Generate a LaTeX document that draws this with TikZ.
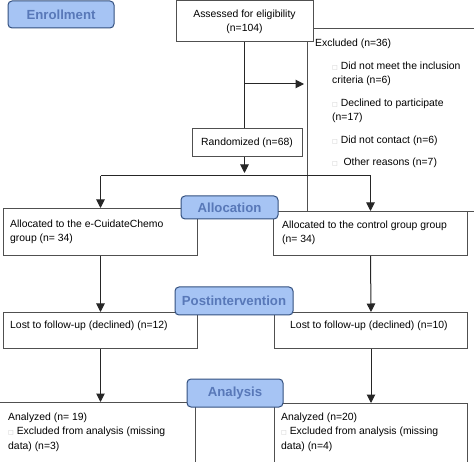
\documentclass[tikz,border=0pt]{standalone}
\usepackage{fontspec}
\setmainfont{Liberation Sans}
\newfontfamily\dejavu{DejaVu Sans}
\usetikzlibrary{arrows.meta,positioning,calc}
\definecolor{stagefill}{HTML}{A6C4F4}
\definecolor{stagedraw}{HTML}{33507F}
\definecolor{stagetext}{HTML}{5878B8}
\definecolor{boxline}{HTML}{505050}
\newcommand{\sqmark}{{\dejavu\fontsize{6}{6}\selectfont\color{gray!45}\char"25A1}}

\begin{document}
\begin{tikzpicture}[x=1pt,y=-1pt,
  font=\fontsize{10.4}{14.5}\selectfont,
  box/.style={draw=boxline,line width=1pt,fill=white,rectangle,inner sep=0pt},
  txt/.style={anchor=north west,inner sep=0pt,align=left},
  stage/.style={draw=stagedraw,line width=1pt,fill=stagefill,rounded corners=4pt,
    text=stagetext,font=\fontsize{13.2}{13}\selectfont\bfseries,inner sep=0pt},
  ln/.style={draw=black!85,line width=1pt},
  arr/.style={ln,-{Triangle[length=8.5pt,width=8.5pt]}}]
\clip (0,0) rectangle (474,462);
% exclusion box sits behind the assessment box
\node[box,anchor=north west,minimum width=190pt,minimum height=183pt] (excl) at (307,28) {};
\node[txt] (exhead) at (315,38.5) {Excluded (n=36)};
\node[txt] (exlist) at (332,61.5) {\sqmark\ Did not meet the inclusion\\criteria (n=6)\\[8pt]\sqmark\ Declined to participate\\(n=17)\\[8pt]\sqmark\ Did not contact (n=6)\\[8pt]\sqmark\ \ Other reasons (n=7)};
\node[box,minimum width=137pt,minimum height=41pt,align=center,font=\fontsize{10.4}{14}\selectfont] (assess) at (244.5,21.5) {Assessed for eligibility\\(n=104)};
\node[box,minimum width=110pt,minimum height=28pt] (rand) at (247,143) {Randomized (n=68)};
% two arms
\node[box,anchor=north west,minimum width=194pt,minimum height=47pt] (allocL) at (3,208) {};
\node[txt] (allocLtxt) at (10,219.5) {Allocated to the e-CuidateChemo\\group (n= 34)};
\node[box,anchor=north west,minimum width=194pt,minimum height=44pt] (allocR) at (273,211) {};
\node[txt] (allocRtxt) at (282,220.5) {Allocated to the control group group\\(n= 34)};
\node[box,anchor=north west,minimum width=194pt,minimum height=36pt] (lostL) at (3,312) {};
\node[txt] (lostLtxt) at (10,320.5) {Lost to follow-up (declined) (n=12)};
\node[box,anchor=north west,minimum width=193pt,minimum height=36pt] (lostR) at (274,312) {};
\node[txt] (lostRtxt) at (290,320.5) {Lost to follow-up (declined) (n=10)};
\node[box,anchor=north west,minimum width=196pt,minimum height=80pt] (anaL) at (-1,402) {};
\node[txt] (anaLtxt) at (8,412.5) {Analyzed (n= 19)\\\sqmark\ Excluded from analysis (missing\\data) (n=3)};
\node[box,anchor=north west,minimum width=193pt,minimum height=80pt] (anaR) at (274,403) {};
\node[txt] (anaRtxt) at (281,412.5) {Analyzed (n=20)\\\sqmark\ Excluded from analysis (missing\\data) (n=4)};
% connectors
\coordinate (exjoin) at (244.5,84);
\coordinate (split) at (244.5,176);
\draw[ln] (assess.south) -- (assess.south |- rand.north);
\draw[arr,shorten >=3pt] (exjoin) -- (exjoin -| excl.west);
\draw[arr,shorten >=3pt] (rand.south -| split) -- (split);
\draw[ln] (allocL.north |- split) -- (allocR.north |- split);
\draw[arr] (allocL.north |- split) -- (allocL.north);
\draw[arr] (allocR.north |- split) -- (allocR.north);
\draw[arr] (allocL.south) -- (lostL.north);
\draw[arr] (allocR.south) -- (lostR.north);
\draw[arr] (lostL.south) -- (lostL.south |- anaL.north);
\draw[arr] (lostR.south) -- (lostR.south |- anaR.north);
% stage labels on top
\node[stage,minimum width=106pt,minimum height=27pt] (enroll) at (61,14.5) {Enrollment};
\node[stage,minimum width=97pt,minimum height=23pt] (allocst) at (229.5,207.5) {Allocation};
\node[stage,minimum width=118pt,minimum height=28pt] (postst) at (234,301) {Postintervention};
\node[stage,minimum width=96pt,minimum height=28pt] (anast) at (235,393) {Analysis};
\end{tikzpicture}
\end{document}
